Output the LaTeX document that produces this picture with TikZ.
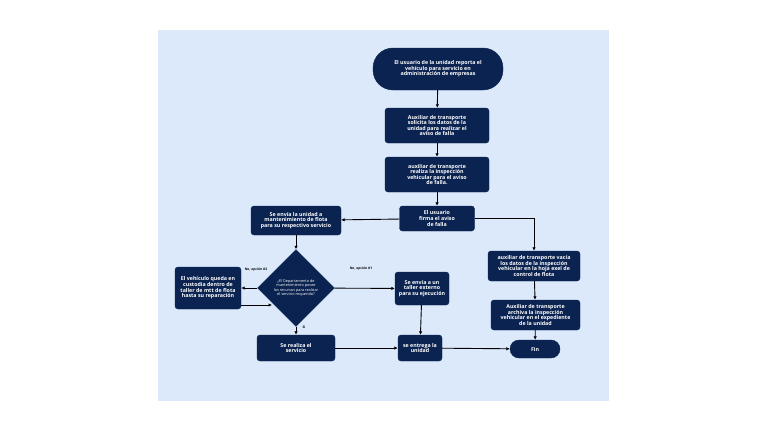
\documentclass[tikz,border=0pt]{standalone}
\usepackage{fontspec}
\setmainfont{Open Sans}
\usetikzlibrary{shapes.geometric,arrows.meta}
\definecolor{navy}{HTML}{0B2350}
\definecolor{panel}{HTML}{DCE9FB}
\begin{document}
\begin{tikzpicture}[x=1pt,y=-1pt,
  box/.style={draw=navy,fill=navy,rounded corners=3pt,text=white,font=\fontsize{5.3}{5.6}\selectfont\bfseries,align=center,inner sep=1pt},
  term/.style={box,rounded corners=12pt},
  arr/.style={-{Latex[length=3.5pt,width=3.5pt]},line width=0.9pt,black},
  lab/.style={font=\fontsize{3.3}{4}\selectfont\bfseries,text=black}]
\useasboundingbox (0,0) rectangle (768,431);
\fill[white] (0,0) rectangle (768,431);
\fill[panel] (158,30) rectangle (609,401);
\node[term,minimum width=130pt,minimum height=42pt,rounded corners=20pt] (s) at (438,69) {El usuario de la unidad reporta el\\vehículo para servicio en\\administración de empresas};
\node[box,minimum width=104pt,minimum height=35pt] (a1) at (437,125.5) {Auxiliar de transporte\\solicita los datos de la\\unidad para realizar el\\aviso de falla};
\node[box,minimum width=104pt,minimum height=35pt] (a2) at (437,174.5) {auxiliar de transporte\\realiza la inspección\\vehicular para el aviso\\de falla.};
\node[box,minimum width=75pt,minimum height=25pt] (a3) at (437,218.5) {El usuario\\firma el aviso\\de falla};
\node[box,minimum width=90pt,minimum height=29pt] (b) at (296,220.5) {Se envía la unidad a\\mantenimiento  de flota\\para su respectivo servicio};
\node[diamond,fill=navy,draw=navy,minimum width=77pt,minimum height=77pt,inner sep=0pt,text=white,align=center,font=\fontsize{3.8}{4.2}\selectfont] (d) at (296,288) {¿El Departamento de\\mantenimiento posee\\los recursos para realizar\\el servicio requerido?};
\node[box,minimum width=66pt,minimum height=42pt] (c) at (208,288) {El vehículo queda en\\custodia dentro de\\taller de mtt de flota\\hasta su reparación};
\node[box,minimum width=54pt,minimum height=33pt] (t) at (422,288.5) {Se envía a un\\taller externo\\para su ejecución};
\node[box,minimum width=78pt,minimum height=26pt] (e) at (296,348) {Se realiza el\\servicio};
\node[box,minimum width=44pt,minimum height=26pt] (f) at (420,348) {se entrega la\\unidad};
\node[box,minimum width=92pt,minimum height=30pt] (g) at (534,266) {auxiliar de transporte vacía\\los datos de la inspección\\vehicular en la hoja exel de\\control de flota};
\node[box,minimum width=89pt,minimum height=30pt] (h) at (535.5,315) {Auxiliar de transporte\\archiva la inspección\\vehicular en el expediente\\de la unidad};
\node[term,minimum width=50pt,minimum height=18pt,rounded corners=9pt] (fin) at (535,349) {Fin};
\draw[arr] (s) -- (a1);
\draw[arr] (a1) -- (a2);
\draw[arr] (a2) -- (a3);
\draw[arr] (a3) -- (b);
\draw[arr] (a3.east) -| (g.north);
\draw[arr] (b) -- (d);
\draw[arr] (d) -- (c);
\coordinate (cx) at (241,305);
\draw[arr] (cx) -- (272,305);
\draw[arr] (d) -- (t);
\draw[arr] (d) -- (e);
\draw[arr] (t) -- (f);
\draw[arr] (e) -- (f);
\draw[arr] (f) -- (fin);
\draw[arr] (g) -- (h);
\draw[arr] (h) -- (fin);
\node[lab] (l1) at (256,270) {No, opción \#2};
\node[lab] (l2) at (361,269) {No, opción \#1};
\node[lab] (l3) at (304,327) {Si};
\end{tikzpicture}
\end{document}
